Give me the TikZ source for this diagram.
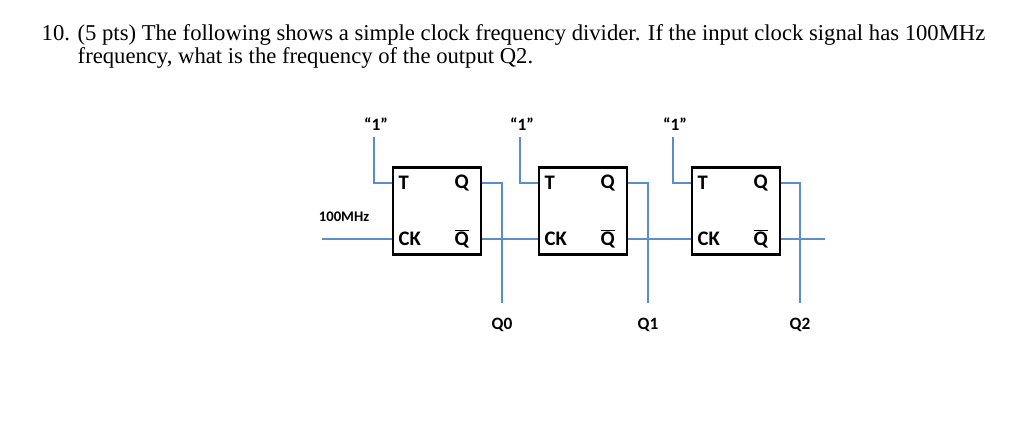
\documentclass[tikz,border=0pt]{standalone}
\usepackage{fontspec}
\setmainfont{Liberation Serif}
\newfontfamily\diag{Carlito}
\usepackage{xcolor}
\definecolor{wire}{HTML}{5B8DC8}
\begin{document}
\begin{tikzpicture}[x=0.75pt,y=-0.75pt,
	ff/.style={draw,line width=2pt,minimum width=66pt,minimum height=65pt,inner sep=0pt},
	pin/.style={font=\diag\bfseries\fontsize{15.5}{15.5}\selectfont,inner sep=0pt},
	lbl/.style={font=\diag\bfseries\fontsize{13}{15}\selectfont,inner sep=0pt},
	w/.style={draw=wire,line width=1.4pt}]
	\useasboundingbox (0,0) rectangle (1032,436);
	\node[anchor=west,font=\fontsize{17}{20}\selectfont] at (37,35) {10. (5 pts) The following shows a simple clock frequency divider. If the input clock signal has 100MHz};
	\node[anchor=west,font=\fontsize{17}{20}\selectfont] at (73,58) {frequency, what is the frequency of the output Q2.};
	% flip-flops
	\foreach \i/\x/\o in {0/437/502,1/583/648,2/736/800}{
		\node[ff] (ff\i) at (\x,211) {};
		\node[pin,anchor=west] at ([xshift=5pt,yshift=21pt]ff\i.west) {T};
		\node[pin,anchor=east] at ([xshift=-10pt,yshift=21pt]ff\i.east) {Q};
		\node[pin,anchor=west] at ([xshift=5pt,yshift=-21pt]ff\i.west) {CK};
		\node[pin,anchor=east] at ([xshift=-10pt,yshift=-21pt]ff\i.east) {$\overline{\mbox{Q}}$};
		\node[lbl] (one\i) at (\x-61,124) {“1”};
		\coordinate (top\i) at (\x-63,137);
		\node[lbl] (out\i) at (\o,325) {Q\i};
		\coordinate (bot\i) at (\o,303);
		\draw[w] (top\i) |- ([yshift=21pt]ff\i.west);
		\draw[w] ([yshift=21pt]ff\i.east) -| (bot\i);
	}
	\node[lbl,font=\diag\bfseries\fontsize{11}{12}\selectfont] (clk) at (344,217) {100MHz};
	\coordinate (in) at (322,239);
	\coordinate (end) at (825,239);
	\draw[w] (in) -- ([yshift=-21pt]ff0.west);
	\draw[w] ([yshift=-21pt]ff0.east) -- ([yshift=-21pt]ff1.west);
	\draw[w] ([yshift=-21pt]ff1.east) -- ([yshift=-21pt]ff2.west);
	\draw[w] ([yshift=-21pt]ff2.east) -- (end);
\end{tikzpicture}
\end{document}
